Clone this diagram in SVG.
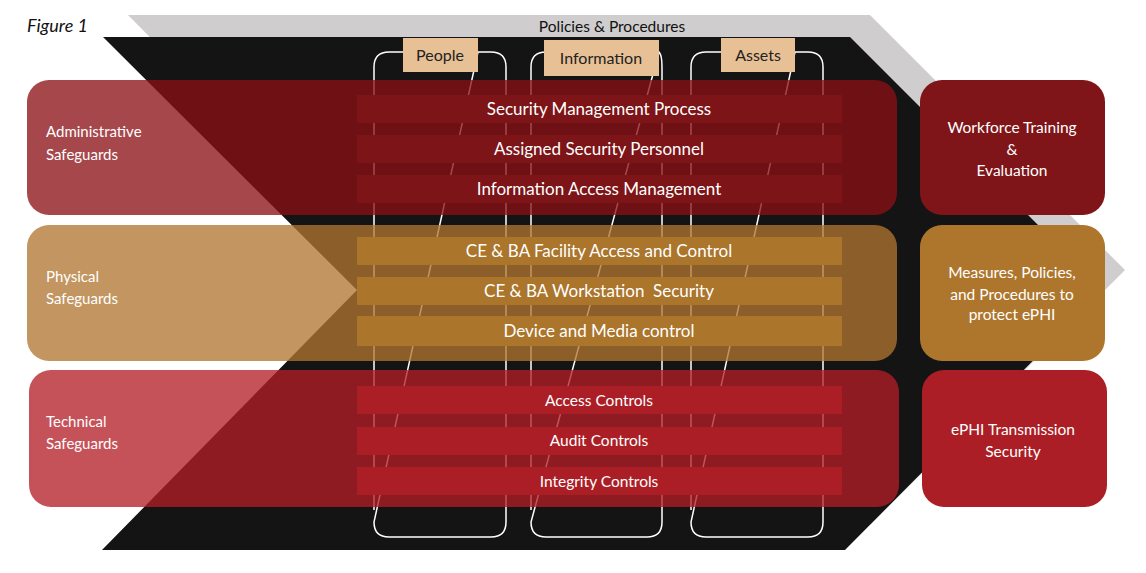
<svg xmlns="http://www.w3.org/2000/svg" width="1146" height="573" viewBox="0 0 1146 573">
<style>
text{font-family:Lato,"Open Sans",sans-serif;fill:#fff}
.row{font-size:17px;text-anchor:middle}
.side{font-size:15px}
.rt{font-size:15.5px;text-anchor:middle}
.col{fill:none;stroke:#fff;stroke-width:1.5}
.lab{fill:#e8c095}
.labt{fill:#222;font-size:16px;text-anchor:middle}
</style>
<rect width="1146" height="573" fill="#fff"/>
<g id="background">
<polygon points="128,15 870,15 1125,270 870,525 128,525 380,270" fill="#cfcdce"/>
<polygon points="103,37 850,37 1103,290 845,550 102,550 357,290" fill="#141414"/>
<text x="27" y="32" style="font-size:18px;font-style:italic;fill:#111">Figure 1</text>
<text x="612" y="32" style="font-size:15.5px;fill:#111;text-anchor:middle">Policies &amp; Procedures</text>
</g>
<g id="columns">
<path class="col" d="M374,510 V67 Q374,52 389,52 H403 M478,52 H491 Q506,52 506,67 V522 Q506,537 491,537 H389 Q374,537 374,522 Z"/>
<path class="col" d="M531,510 V67 Q531,52 546,52 M659,52 Q662,55 662,67 V522 Q662,537 647,537 H546 Q531,537 531,522 Z"/>
<path class="col" d="M691,510 V67 Q691,52 706,52 H721 M795,52 H808 Q823,52 823,67 V522 Q823,537 808,537 H706 Q691,537 691,522 Z"/>
<g id="people"><rect class="lab" x="403" y="38" width="75" height="34"/><text class="labt" x="440" y="61">People</text></g>
<g id="information"><rect class="lab" x="544" y="40" width="115" height="36"/><text class="labt" x="601" y="64">Information</text></g>
<g id="assets"><rect class="lab" x="721" y="38" width="74" height="34"/><text class="labt" x="758" y="61">Assets</text></g>
</g>
<g id="administrative">
<rect x="27" y="80" width="870" height="135" rx="22" fill="rgb(139,15,22)" fill-opacity="0.77"/>
<text class="side" x="46" y="137">Administrative</text><text class="side" x="46" y="160">Safeguards</text>
<g fill="#7c1418"><rect x="357" y="95" width="485" height="28"/><rect x="357" y="135" width="485" height="28"/><rect x="357" y="175" width="485" height="28"/></g>
<text class="row" x="599" y="115">Security Management Process</text>
<text class="row" x="599" y="155">Assigned Security Personnel</text>
<text class="row" x="599" y="195">Information Access Management</text>
</g>
<g id="physical">
<rect x="27" y="225" width="870" height="136" rx="22" fill="rgb(175,117,49)" fill-opacity="0.77"/>
<text class="side" x="46" y="282">Physical</text><text class="side" x="46" y="304">Safeguards</text>
<g fill="#ab752c"><rect x="357" y="237" width="485" height="28"/><rect x="357" y="277" width="485" height="28"/><rect x="357" y="316" width="485" height="30"/></g>
<text class="row" x="599" y="257">CE &amp; BA Facility Access and Control</text>
<text class="row" x="599" y="297" xml:space="preserve">CE &amp; BA Workstation  Security</text>
<text class="row" x="599" y="337">Device and Media control</text>
</g>
<g id="technical">
<rect x="29" y="370" width="870" height="137" rx="22" fill="rgb(180,30,39)" fill-opacity="0.77"/>
<text class="side" x="46" y="427">Technical</text><text class="side" x="46" y="449">Safeguards</text>
<g fill="#ab1e25"><rect x="357" y="386" width="485" height="28"/><rect x="357" y="427" width="485" height="28"/><rect x="357" y="467" width="485" height="28"/></g>
<text class="row" x="599" y="406" style="font-size:15.5px">Access Controls</text>
<text class="row" x="599" y="446" style="font-size:15.5px">Audit Controls</text>
<text class="row" x="599" y="487" style="font-size:15.5px">Integrity Controls</text>
</g>
<g id="workforce">
<rect x="920" y="80" width="185" height="135" rx="22" fill="#7f1519"/>
<text class="rt" x="1012" y="133">Workforce Training</text><text class="rt" x="1012" y="155">&amp;</text><text class="rt" x="1012" y="176">Evaluation</text>
</g>
<g id="measures">
<rect x="920" y="225" width="185" height="136" rx="22" fill="#ae762d"/>
<text class="rt" x="1012" y="278">Measures, Policies,</text><text class="rt" x="1012" y="300">and Procedures to</text><text class="rt" x="1012" y="320">protect ePHI</text>
</g>
<g id="transmission">
<rect x="922" y="370" width="185" height="137" rx="22" fill="#ab1e25"/>
<text class="rt" x="1013" y="435">ePHI Transmission</text><text class="rt" x="1013" y="457">Security</text>
</g>
</svg>
